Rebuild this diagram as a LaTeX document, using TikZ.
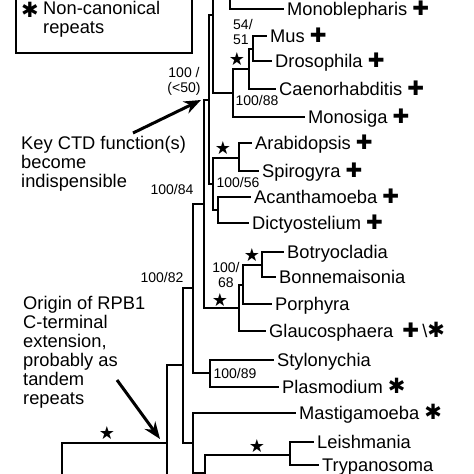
\documentclass[tikz,border=0pt]{standalone}
\usepackage{fontspec}
\setmainfont{Liberation Sans}
\newfontfamily\symbolfont{DejaVu Sans}
\usetikzlibrary{arrows.meta}

\newcommand{\plusmark}{{\fontsize{20}{20}\symbolfont ✚}}
\newcommand{\astmark}{{\fontsize{21}{21}\symbolfont ✱}}
\newcommand{\starmark}{{\fontsize{18}{18}\symbolfont ★}}

\tikzset{
  branch/.style={line width=1.8pt},
  taxon/.style={anchor=west, inner sep=0pt, text height=13pt, text depth=0pt, font=\fontsize{18.3}{20}\selectfont},
  boot/.style={inner sep=0pt, align=center, font=\fontsize{14}{15}\selectfont},
  note/.style={anchor=north west, inner sep=0pt, align=left, font=\fontsize{18.3}{19}\selectfont},
  callout/.style={line width=3pt, -{Stealth[length=17pt, width=13pt]}},
}

\begin{document}
\begin{tikzpicture}[x=1pt, y=-1pt]
    \useasboundingbox (0,0) rectangle (474,474);
    \clip (0,0) rectangle (474,474);
    % legend
    \draw[line width=1.6pt] (16,-5) rectangle (192,53);
    \node[inner sep=0pt] (legAst) at (30,10) {\astmark};
    \node[note] (legText) at (43,1) {Non-canonical\\repeats};
    % taxa
    \node[taxon] (Monobl) at (287,9) {Monoblepharis \plusmark};
    \node[taxon] (Mus) at (270,36) {Mus \plusmark};
    \node[taxon] (Droso) at (275,61) {Drosophila \plusmark};
    \node[taxon] (Caeno) at (279,89) {Caenorhabditis \plusmark};
    \node[taxon] (Monosiga) at (308,117) {Monosiga \plusmark};
    \node[taxon] (Arabid) at (255,143) {Arabidopsis \plusmark};
    \node[taxon] (Spirog) at (262,171) {Spirogyra \plusmark};
    \node[taxon] (Acanth) at (254,197) {Acanthamoeba \plusmark};
    \node[taxon] (Dictyo) at (252,223) {Dictyostelium \plusmark};
    \node[taxon] (Botryo) at (287,252) {Botryocladia};
    \node[taxon] (Bonnem) at (279,277) {Bonnemaisonia};
    \node[taxon] (Porphyra) at (275,304) {Porphyra};
    \node[taxon] (Glauco) at (269,331) {Glaucosphaera\hspace{0.5em}\plusmark\,\textbackslash\astmark};
    \node[taxon] (Stylo) at (277,360) {Stylonychia};
    \node[taxon] (Plasmo) at (282,387) {Plasmodium \astmark};
    \node[taxon] (Mastig) at (299,413) {Mastigamoeba \astmark};
    \node[taxon] (Leish) at (317,442) {Leishmania};
    \node[taxon] (Trypano) at (322,465) {Trypanosoma};
    % internal nodes
    \coordinate (fungi) at (230,-10);
    \coordinate (opisTop) at (213,-10);
    \coordinate (opis) at (213,15);
    \coordinate (metaz) at (233,93);
    \coordinate (holo) at (249,69);
    \coordinate (musDro) at (253,49);
    \coordinate (crown) at (209,100);
    \coordinate (plantAmoeba) at (213,184);
    \coordinate (green) at (239,158);
    \coordinate (amoeba) at (218,210);
    \coordinate (crownB) at (204,204);
    \coordinate (red) at (239,308);
    \coordinate (rhodo) at (243,285);
    \coordinate (florid) at (262,265);
    \coordinate (upper) at (193,288);
    \coordinate (alveo) at (210,373);
    \coordinate (euk) at (183,365);
    \coordinate (lower) at (193,443);
    \coordinate (kinBase) at (205,473);
    \coordinate (kinBot) at (205,500);
    \coordinate (kineto) at (290,455);
    \coordinate (base) at (167,443);
    \coordinate (baseBot) at (167,520);
    \coordinate (root) at (62,500);
    % branches
    \draw[branch] (fungi) |- ([xshift=-3pt]Monobl.west);
    \draw[branch] (opisTop) |- (metaz);
    \draw[branch] (metaz) |- (holo);
    \draw[branch] (metaz) |- ([xshift=-3pt]Monosiga.west);
    \draw[branch] (holo) |- (musDro);
    \draw[branch] (holo) |- ([xshift=-3pt]Caeno.west);
    \draw[branch] (musDro) |- ([xshift=-3pt]Mus.west);
    \draw[branch] (musDro) |- ([xshift=-3pt]Droso.west);
    \draw[branch] (crown) |- (opis);
    \draw[branch] (crown) |- (plantAmoeba);
    \draw[branch] (plantAmoeba) |- (green);
    \draw[branch] (plantAmoeba) |- (amoeba);
    \draw[branch] (green) |- ([xshift=-3pt]Arabid.west);
    \draw[branch] (green) |- ([xshift=-3pt]Spirog.west);
    \draw[branch] (amoeba) |- ([xshift=-3pt]Acanth.west);
    \draw[branch] (amoeba) |- ([xshift=-3pt]Dictyo.west);
    \draw[branch] (crownB) |- (crown);
    \draw[branch] (crownB) |- (red);
    \draw[branch] (red) |- (rhodo);
    \draw[branch] (red) |- ([xshift=-3pt]Glauco.west);
    \draw[branch] (rhodo) |- (florid);
    \draw[branch] (rhodo) |- ([xshift=-3pt]Porphyra.west);
    \draw[branch] (florid) |- ([xshift=-3pt]Botryo.west);
    \draw[branch] (florid) |- ([xshift=-3pt]Bonnem.west);
    \draw[branch] (upper) |- (crownB);
    \draw[branch] (upper) |- (alveo);
    \draw[branch] (alveo) |- ([xshift=-3pt]Stylo.west);
    \draw[branch] (alveo) |- ([xshift=-3pt]Plasmo.west);
    \draw[branch] (euk) |- (upper);
    \draw[branch] (euk) |- (lower);
    \draw[branch] (lower) |- ([xshift=-3pt]Mastig.west);
    \draw[branch] (lower) |- (kinBase);
    \draw[branch] (kinBot) |- (kineto);
    \draw[branch] (kineto) |- ([xshift=-3pt]Leish.west);
    \draw[branch] (kineto) |- ([xshift=-3pt]Trypano.west);
    \draw[branch] (baseBot) |- (euk);
    \draw[branch] (root) |- (base);
    % support values
    \node[boot] (bsOpis) at (184,81) {100 /\\(<50)};
    \node[boot, align=left, anchor=west] (bsMusDro) at (233,32) {54/\\51};
    \node[boot] (bsHolo) at (257,100) {100/88};
    \node[boot] (bsPlant) at (238,182) {100/56};
    \node[boot] (bsCrown) at (172,189) {100/84};
    \node[boot] (bsRed) at (226,275) {100/\\68};
    \node[boot] (bsUpper) at (162,277) {100/82};
    \node[boot] (bsAlveo) at (235,373) {100/89};
    % stars
    \node[inner sep=0pt] (stHolo) at (237,59) {\starmark};
    \node[inner sep=0pt] (stGreen) at (223,148) {\starmark};
    \node[inner sep=0pt] (stFlorid) at (252,255) {\starmark};
    \node[inner sep=0pt] (stRed) at (220,300) {\starmark};
    \node[inner sep=0pt] (stKineto) at (257,446) {\starmark};
    \node[inner sep=0pt] (stBase) at (107,433) {\starmark};
    % annotations
    \node[note] (keyNote) at (21,136) {Key CTD function(s)\\become\\indispensible};
    \node[note] (originNote) at (23,296) {Origin of RPB1\\C-terminal\\extension,\\probably as\\tandem\\repeats};
    \coordinate (keyTail) at (133,133);
    \coordinate (keyHead) at (201,100);
    \coordinate (originTail) at (117,380);
    \coordinate (originHead) at (160,439);
    \draw[callout] (keyTail) -- (keyHead);
    \draw[callout] (originTail) -- (originHead);
\end{tikzpicture}
\end{document}
